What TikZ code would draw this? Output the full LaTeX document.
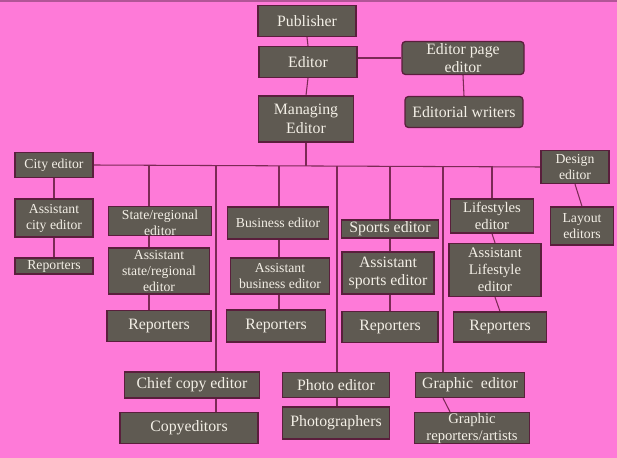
\documentclass[tikz,border=0pt]{standalone}
\usepackage{fontspec}
\setmainfont{Liberation Serif}
\usepackage{xcolor}
\usetikzlibrary{positioning}
\definecolor{pinkbg}{HTML}{FE7AD8}
\definecolor{boxfill}{HTML}{5F5A52}
\definecolor{boxedge}{HTML}{5A1E3C}
\definecolor{boxtxt}{HTML}{F3EFE6}
\definecolor{wirecol}{HTML}{7B2A55}
\pgfdeclarelayer{bg}
\pgfdeclarelayer{wires}
\pgfsetlayers{bg,wires,main}
\tikzset{
	block/.style={draw=boxedge, fill=boxfill, line width=1.1pt},
	rblock/.style={block, rounded corners=3pt},
	boxtext/.style={align=center, text=boxtxt, font=\fontsize{11.7}{13.6}\selectfont},
	midtext/.style={boxtext, font=\fontsize{12.5}{14.5}\selectfont},
	bigtext/.style={boxtext, font=\fontsize{13.5}{16}\selectfont},
	wire/.style={draw=wirecol, line width=0.9pt}
}

\begin{document}
\begin{tikzpicture}[x=0.03cm, y=-0.03cm]
		\begin{pgfonlayer}{bg}
			\fill[pinkbg] (0,0) rectangle (617,458);
			\fill[pinkbg!70!black] (0,0) rectangle (617,2);
		\end{pgfonlayer}
		
		\node[block, minimum width=2.94cm, minimum height=0.93cm] (pub) at (307,21) {};
		\node[bigtext] (pub-t) at (pub) {Publisher};
		
		\node[block, minimum width=2.94cm, minimum height=0.93cm] (editor) at (308,62) {};
		\node[bigtext] (editor-t) at (editor) {Editor};
		
		\node[rblock, minimum width=3.66cm, minimum height=0.99cm] (edpage) at (463,58) {};
		\node[bigtext] (edpage-t) at (edpage) {Editor page \\ editor};
		
		\node[block, minimum width=2.85cm, minimum height=1.38cm] (managing) at (306,119) {};
		\node[bigtext] (managing-t) at (managing) {Managing \\ Editor};
		
		\node[rblock, minimum width=3.54cm, minimum height=0.93cm] (edwriters) at (464,112) {};
		\node[bigtext] (edwriters-t) at (edwriters) {Editorial writers};
		
		\node[block, minimum width=2.34cm, minimum height=0.75cm] (city) at (54,165) {};
		\node[boxtext] (city-t) at (city) {City editor};
		
		\node[block, minimum width=2.04cm, minimum height=0.99cm] (design) at (575,167) {};
		\node[boxtext] (design-t) at (design) {Design \\ editor};
		
		\node[block, minimum width=2.34cm, minimum height=1.14cm] (asstcity) at (54,218) {};
		\node[boxtext] (asstcity-t) at (asstcity) {Assistant \\ city editor};
		
		\node[block, minimum width=2.34cm, minimum height=0.48cm] (repcity) at (54,266) {};
		\node[boxtext] (repcity-t) at (repcity) {Reporters};
		
		\node[block, minimum width=3.09cm, minimum height=0.87cm] (state) at (160,221) {};
		\node[boxtext] (state-t) at (160,223) {State/regional \\ editor};
		
		\node[block, minimum width=3.03cm, minimum height=1.38cm] (asststate) at (159,271) {};
		\node[boxtext] (asststate-t) at (asststate) {Assistant \\ state/regional \\ editor};
		
		\node[block, minimum width=3.12cm, minimum height=0.93cm] (repstate) at (159,326) {};
		\node[bigtext] (repstate-t) at (repstate) {Reporters};
		
		\node[block, minimum width=3.03cm, minimum height=0.96cm] (business) at (278,223) {};
		\node[boxtext] (business-t) at (business) {Business editor};
		
		\node[block, minimum width=2.97cm, minimum height=1.08cm] (asstbus) at (280,276) {};
		\node[boxtext] (asstbus-t) at (asstbus) {Assistant \\ business editor};
		
		\node[block, minimum width=2.97cm, minimum height=0.96cm] (repbus) at (276,326) {};
		\node[bigtext] (repbus-t) at (repbus) {Reporters};
		
		\node[block, minimum width=2.91cm, minimum height=0.54cm] (sports) at (390,229) {};
		\node[bigtext] (sports-t) at (sports) {Sports editor};
		
		\node[block, minimum width=2.76cm, minimum height=1.26cm] (asstsports) at (388,273) {};
		\node[bigtext] (asstsports-t) at (asstsports) {Assistant \\ sports editor};
		
		\node[block, minimum width=2.88cm, minimum height=0.93cm] (repsports) at (390,327) {};
		\node[bigtext] (repsports-t) at (repsports) {Reporters};
		
		\node[block, minimum width=2.49cm, minimum height=1.02cm] (life) at (492,216) {};
		\node[midtext] (life-t) at (life) {Lifestyles \\ editor};
		
		\node[block, minimum width=2.76cm, minimum height=1.59cm] (asstlife) at (495,270) {};
		\node[midtext] (asstlife-t) at (asstlife) {Assistant \\ Lifestyle \\ editor};
		
		\node[block, minimum width=2.79cm, minimum height=0.90cm] (replife) at (500,327) {};
		\node[bigtext] (replife-t) at (replife) {Reporters};
		
		\node[block, minimum width=1.89cm, minimum height=1.14cm] (layout) at (582,226) {};
		\node[boxtext] (layout-t) at (layout) {Layout \\ editors};
		
		\node[block, minimum width=4.05cm, minimum height=0.78cm] (chief) at (192,385) {};
		\node[bigtext] (chief-t) at (chief) {Chief copy editor};
		
		\node[block, minimum width=4.14cm, minimum height=0.93cm] (copyed) at (189,428) {};
		\node[bigtext] (copyed-t) at (copyed) {Copyeditors};
		
		\node[block, minimum width=3.21cm, minimum height=0.75cm] (photo) at (336,385) {};
		\node[bigtext] (photo-t) at (photo) {Photo editor};
		
		\node[block, minimum width=3.21cm, minimum height=0.96cm] (photog) at (336,423) {};
		\node[bigtext] (photog-t) at (photog) {Photographers};
		
		\node[block, minimum width=3.27cm, minimum height=0.75cm] (graphic) at (470,385) {};
		\node[bigtext] (graphic-t) at (graphic) {Graphic~ editor};
		
		\node[block, minimum width=3.45cm, minimum height=0.93cm] (graphrep) at (472,428) {};
		\node[midtext] (graphrep-t) at (graphrep) {Graphic \\ reporters/artists};
		
		% drops from the bus line
		\coordinate (d1) at (149,166);
		\coordinate (d2) at (216,166);
		\coordinate (d3) at (279,166);
		\coordinate (d4) at (337,166);
		\coordinate (d5) at (390,166);
		\coordinate (d6) at (443,166);
		\coordinate (d7) at (492,166);
		
		\begin{pgfonlayer}{wires}
		\draw[wire] (pub.south) -- (editor.north);
		\draw[wire] (editor.south) -- (managing.north);
		\draw[wire] (edpage.west) -- (edpage.west -| editor.east);
		\draw[wire] (edpage.south) -- (edwriters.north);
		
		\draw[wire] (managing.south) -- (managing.south |- d1);
		\draw[wire] (city.east) -- (design.west);
		
		\draw[wire] (city.south) -- (repcity.north);
		\draw[wire] (d1) -- (d1 |- repstate.north);
		\draw[wire] (d2) -- (d2 |- chief.north);
		\draw[wire] (d2 |- chief.south) -- (d2 |- copyed.north);
		\draw[wire] (d3) -- (d3 |- repbus.north);
		\draw[wire] (d4) -- (d4 |- photo.north);
		\draw[wire] (d4 |- photo.south) -- (d4 |- photog.north);
		\draw[wire] (d5) -- (d5 |- repsports.north);
		\draw[wire] (d6) -- (d6 |- graphic.north);
		\draw[wire] (d6 |- graphic.south) -- ([xshift=0.21cm]d6 |- graphrep.north);
		\draw[wire] (d7) -- (life.north);
		\draw[wire] (life.south) -- (asstlife.north);
		\draw[wire] (asstlife.south) -- (replife.north);
		\draw[wire] (design.south) -- (layout.north);
		\end{pgfonlayer}
	\end{tikzpicture}
\end{document}
